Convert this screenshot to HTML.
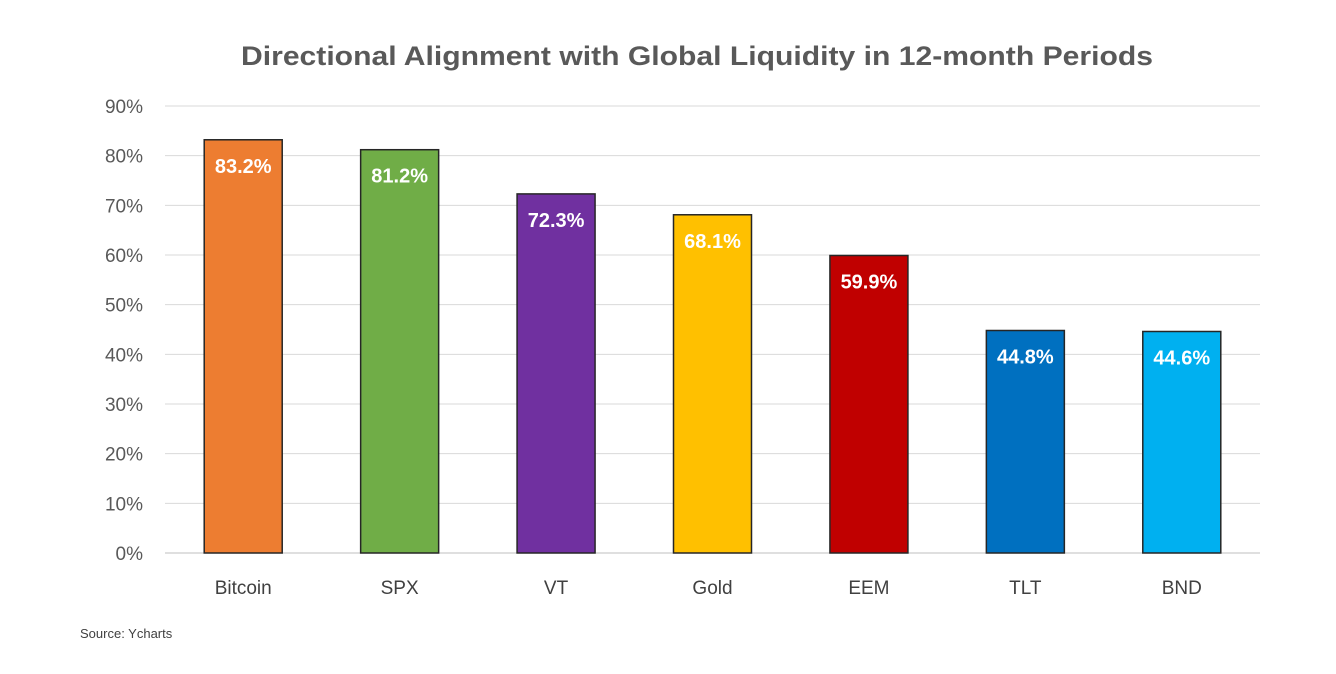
<!DOCTYPE html>
<html><head><meta charset="utf-8"><style>
body{margin:0;background:#fff;}
svg{display:block;font-family:"Liberation Sans",sans-serif;}
</style></head><body>
<svg id="chart" width="1336" height="674">
<text x="697" y="65" text-anchor="middle" font-size="27" font-weight="bold" fill="#595959" textLength="912" lengthAdjust="spacingAndGlyphs">Directional Alignment with Global Liquidity in 12-month Periods</text>
<g id="grid"></g><g id="bars"></g><g id="xl"></g>
<text x="80" y="638" font-size="13" fill="#404040">Source: Ycharts</text>
</svg>
<script>
const categories=["Bitcoin","SPX","VT","Gold","EEM","TLT","BND"];
const values=[83.2,81.2,72.3,68.1,59.9,44.8,44.6];
const colors=["#ED7D31","#70AD47","#7030A0","#FFC000","#C00000","#0070C0","#00B0F0"];
const ticks=[0,10,20,30,40,50,60,70,80,90];
const NS="http://www.w3.org/2000/svg";
const x0=165,x1=1260,yb=553,yt=106,ymax=90;
const y=v=>yb-(v/ymax)*(yb-yt);
const band=(x1-x0)/categories.length;
const cx=i=>x0+band*(i+0.5);
function mk(t,a,p){const e=document.createElementNS(NS,t);for(const k in a)e.setAttribute(k,a[k]);p.appendChild(e);return e;}
const g=document.getElementById("grid"),b=document.getElementById("bars"),xl=document.getElementById("xl");
ticks.forEach(t=>{
 const l=mk("line",{x1:x0,x2:x1,y1:y(t),y2:y(t),stroke:t===0?"#bfbfbf":"#d9d9d9","stroke-width":1},g);
 
 
 const tx=mk("text",{x:143,y:y(t)+7,"text-anchor":"end","font-size":19,fill:"#595959"},g);
 tx.textContent=t+"%";
 
 
});
const bw=78;
values.forEach((v,i)=>{
 const r=mk("rect",{x:cx(i)-bw/2,y:y(v),width:bw,height:yb-y(v),fill:colors[i],stroke:"#262626","stroke-width":1.5},b);
 
 
 const t=mk("text",{x:cx(i),y:y(v)+33,"text-anchor":"middle","font-size":20,"font-weight":"bold",fill:"#fff"},b);
 t.textContent=v.toFixed(1)+"%";
 
 
 const c=mk("text",{x:cx(i),y:594,"text-anchor":"middle","font-size":19,fill:"#404040"},xl);
 c.textContent=categories[i];
 
 
});
</script>
</body></html>
